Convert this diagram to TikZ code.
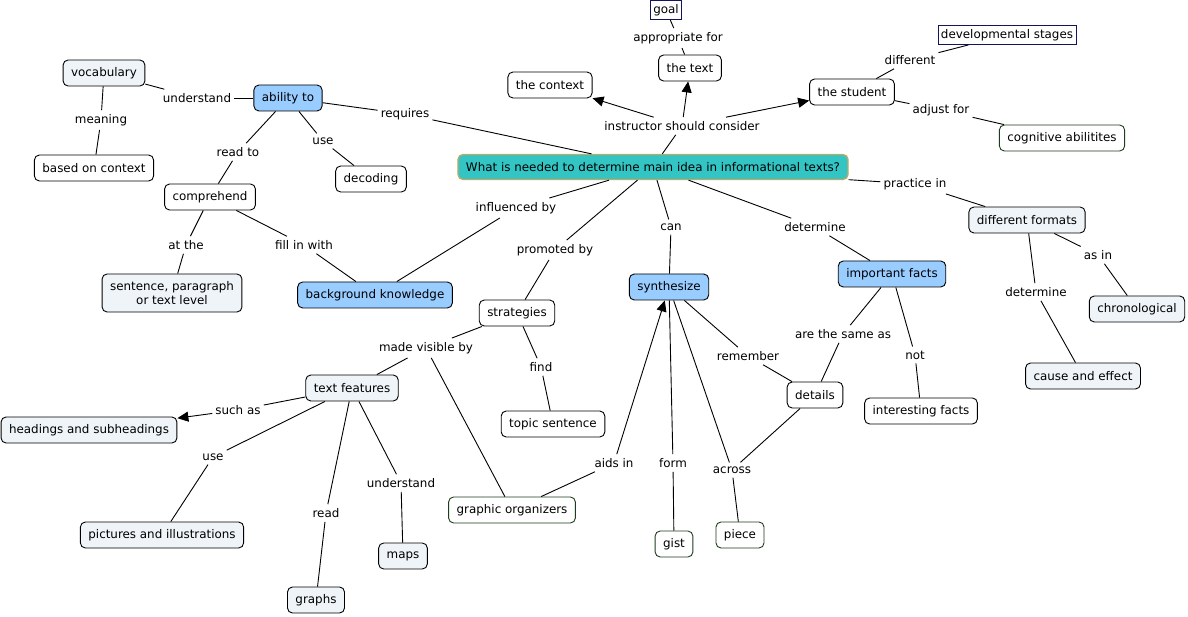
\documentclass[tikz,border=0pt]{standalone}
\usepackage{fontspec}
\setmainfont{DejaVu Sans}
\usetikzlibrary{arrows.meta}
\definecolor{maincol}{RGB}{51,196,196}
\definecolor{mainbrd}{RGB}{190,170,100}
\definecolor{bluecol}{RGB}{153,204,255}
\definecolor{lightcol}{RGB}{238,244,247}
\definecolor{greenbrd}{RGB}{30,60,30}
\definecolor{navybrd}{RGB}{20,20,90}
\tikzset{
  cbox/.style={draw=black, rounded corners=5pt, line width=0.9pt, inner xsep=8pt, minimum height=26pt, font=\fontsize{11.9}{13.5}\selectfont, fill=white},
  wht/.style={cbox},
  lt/.style={cbox, fill=lightcol},
  bl/.style={cbox, fill=bluecol},
  gr/.style={cbox, draw=greenbrd},
  sq/.style={draw=navybrd, line width=0.9pt, inner xsep=3pt, minimum height=19pt, font=\fontsize{11.9}{13.5}\selectfont, fill=white},
  mainbox/.style={cbox, fill=maincol, draw=mainbrd, line width=1.3pt, minimum height=25pt, inner xsep=8pt},
  lbl/.style={fill=white, inner xsep=3pt, inner ysep=4pt, font=\fontsize{11.9}{13.5}\selectfont},
  con/.style={line width=0.9pt},
  arr/.style={line width=0.9pt, -{Triangle[length=11pt,width=10pt]}},
}
\begin{document}
\begin{tikzpicture}[x=1pt,y=-1pt]
\useasboundingbox (0,0) rectangle (1188,617);
% concepts
\node[mainbox] (main) at (653,167) {What is needed to determine main idea in informational texts?};
\node[sq] (goal) at (666,10) {goal};
\node[wht] (text) at (690,68) {the text};
\node[wht] (context) at (550,85) {the context};
\node[wht] (student) at (852,92) {the student};
\node[sq] (dev) at (1007,35) {developmental stages};
\node[gr] (cog) at (1062,138) {cognitive abilitites};
\node[lt] (vocab) at (104,73) {vocabulary};
\node[bl] (ability) at (288,98) {ability to};
\node[wht] (based) at (94,168) {based on context};
\node[wht] (decoding) at (371,179) {decoding};
\node[wht] (comp) at (210,197) {comprehend};
\node[lt, align=center, minimum height=38pt] (sent) at (172,293) {sentence, paragraph\\ or text level};
\node[bl] (back) at (375,295) {background knowledge};
\node[wht] (strat) at (517,313) {strategies};
\node[bl] (synth) at (669,287) {synthesize};
\node[bl] (imp) at (892,274) {important facts};
\node[lt] (formats) at (1027,220) {different formats};
\node[lt] (chron) at (1137,309) {chronological};
\node[lt] (cause) at (1083,376) {cause and effect};
\node[wht] (details) at (815,395) {details};
\node[wht] (interest) at (921,411) {interesting facts};
\node[wht] (topic) at (553,424) {topic sentence};
\node[lt] (tf) at (352,388) {text features};
\node[lt] (head) at (89,430) {headings and subheadings};
\node[lt] (pict) at (162,535) {pictures and illustrations};
\node[lt] (graphs) at (316,600) {graphs};
\node[lt] (maps) at (403,556) {maps};
\node[gr] (go) at (512,510) {graphic organizers};
\node[gr] (gist) at (674,544) {gist};
\node[gr] (piece) at (740,535) {piece};
% labels
\node[lbl] (l1) at (678,38) {appropriate for};
\node[lbl] (l2) at (682,126) {instructor should consider};
\node[lbl] (l3) at (910,60) {different};
\node[lbl] (l4) at (941,110) {adjust for};
\node[lbl] (l5) at (197,98) {understand};
\node[lbl] (l6) at (101,120) {meaning};
\node[lbl] (l7) at (405,114) {requires};
\node[lbl] (l8) at (238,152) {read to};
\node[lbl] (l9) at (323,141) {use};
\node[lbl] (l10) at (186,245) {at the};
\node[lbl] (l11) at (304,245) {fill in with};
\node[lbl] (l12) at (516,208) {influenced by};
\node[lbl] (l13) at (555,250) {promoted by};
\node[lbl] (l14) at (671,227) {can};
\node[lbl] (l15) at (815,227) {determine};
\node[lbl] (l16) at (915,184) {practice in};
\node[lbl] (l17) at (1098,255) {as in};
\node[lbl] (l18) at (1036,292) {determine};
\node[lbl] (l19) at (843,334) {are the same as};
\node[lbl] (l20) at (915,355) {not};
\node[lbl] (l21) at (748,356) {remember};
\node[lbl] (l22) at (541,367) {find};
\node[lbl] (l23) at (426,348) {made visible by};
\node[lbl] (l24) at (238,410) {such as};
\node[lbl] (l25) at (213,457) {use};
\node[lbl] (l26) at (401,483) {understand};
\node[lbl] (l27) at (326,513) {read};
\node[lbl] (l28) at (614,463) {aids in};
\node[lbl] (l29) at (673,463) {form};
\node[lbl] (l30) at (732,470) {across};
% connectors
\draw[con] (text) -- (l1); \draw[con] (l1) -- (goal);
\draw[con] (main) -- (l2);
\draw[arr] (l2) -- (context);
\draw[arr] (l2) -- (text);
\draw[arr] (l2) -- (student);
\draw[con] (student) -- (l3); \draw[con] (l3) -- (dev);
\draw[con] (student) -- (l4); \draw[con] (l4) -- (cog);
\draw[con] (ability) -- (l5); \draw[con] (l5) -- (vocab);
\draw[con] (vocab) -- (l6); \draw[con] (l6) -- (based);
\draw[con] (main) -- (l7); \draw[con] (l7) -- (ability);
\draw[con] (ability) -- (l8); \draw[con] (l8) -- (comp);
\draw[con] (ability) -- (l9); \draw[con] (l9) -- (decoding);
\draw[con] (comp) -- (l10); \draw[con] (l10) -- (sent);
\draw[con] (comp) -- (l11); \draw[con] (l11) -- (back);
\draw[con] (main) -- (l12); \draw[con] (l12) -- (back);
\draw[con] (main) -- (l13); \draw[con] (l13) -- (strat);
\draw[con] (main) -- (l14); \draw[con] (l14) -- (synth);
\draw[con] (main) -- (l15); \draw[con] (l15) -- (imp);
\draw[con] (main) -- (l16); \draw[con] (l16) -- (formats);
\draw[con] (formats) -- (l17); \draw[con] (l17) -- (chron);
\draw[con] (formats) -- (l18); \draw[con] (l18) -- (cause);
\draw[con] (imp) -- (l19); \draw[con] (l19) -- (details);
\draw[con] (imp) -- (l20); \draw[con] (l20) -- (interest);
\draw[con] (synth) -- (l21); \draw[con] (l21) -- (details);
\draw[con] (strat) -- (l22); \draw[con] (l22) -- (topic);
\draw[con] (strat) -- (l23); \draw[con] (l23) -- (tf); \draw[con] (l23) -- (go);
\draw[con] (tf) -- (l24); \draw[arr] (l24) -- (head);
\draw[con] (tf) -- (l25); \draw[con] (l25) -- (pict);
\draw[con] (tf) -- (l26); \draw[con] (l26) -- (maps);
\draw[con] (tf) -- (l27); \draw[con] (l27) -- (graphs);
\draw[con] (go) -- (l28); \draw[arr] (l28) -- (synth);
\draw[con] (synth) -- (l29); \draw[con] (l29) -- (gist);
\draw[con] (synth) -- (l30); \draw[con] (details) -- (l30); \draw[con] (l30) -- (piece);
\end{tikzpicture}
\end{document}
